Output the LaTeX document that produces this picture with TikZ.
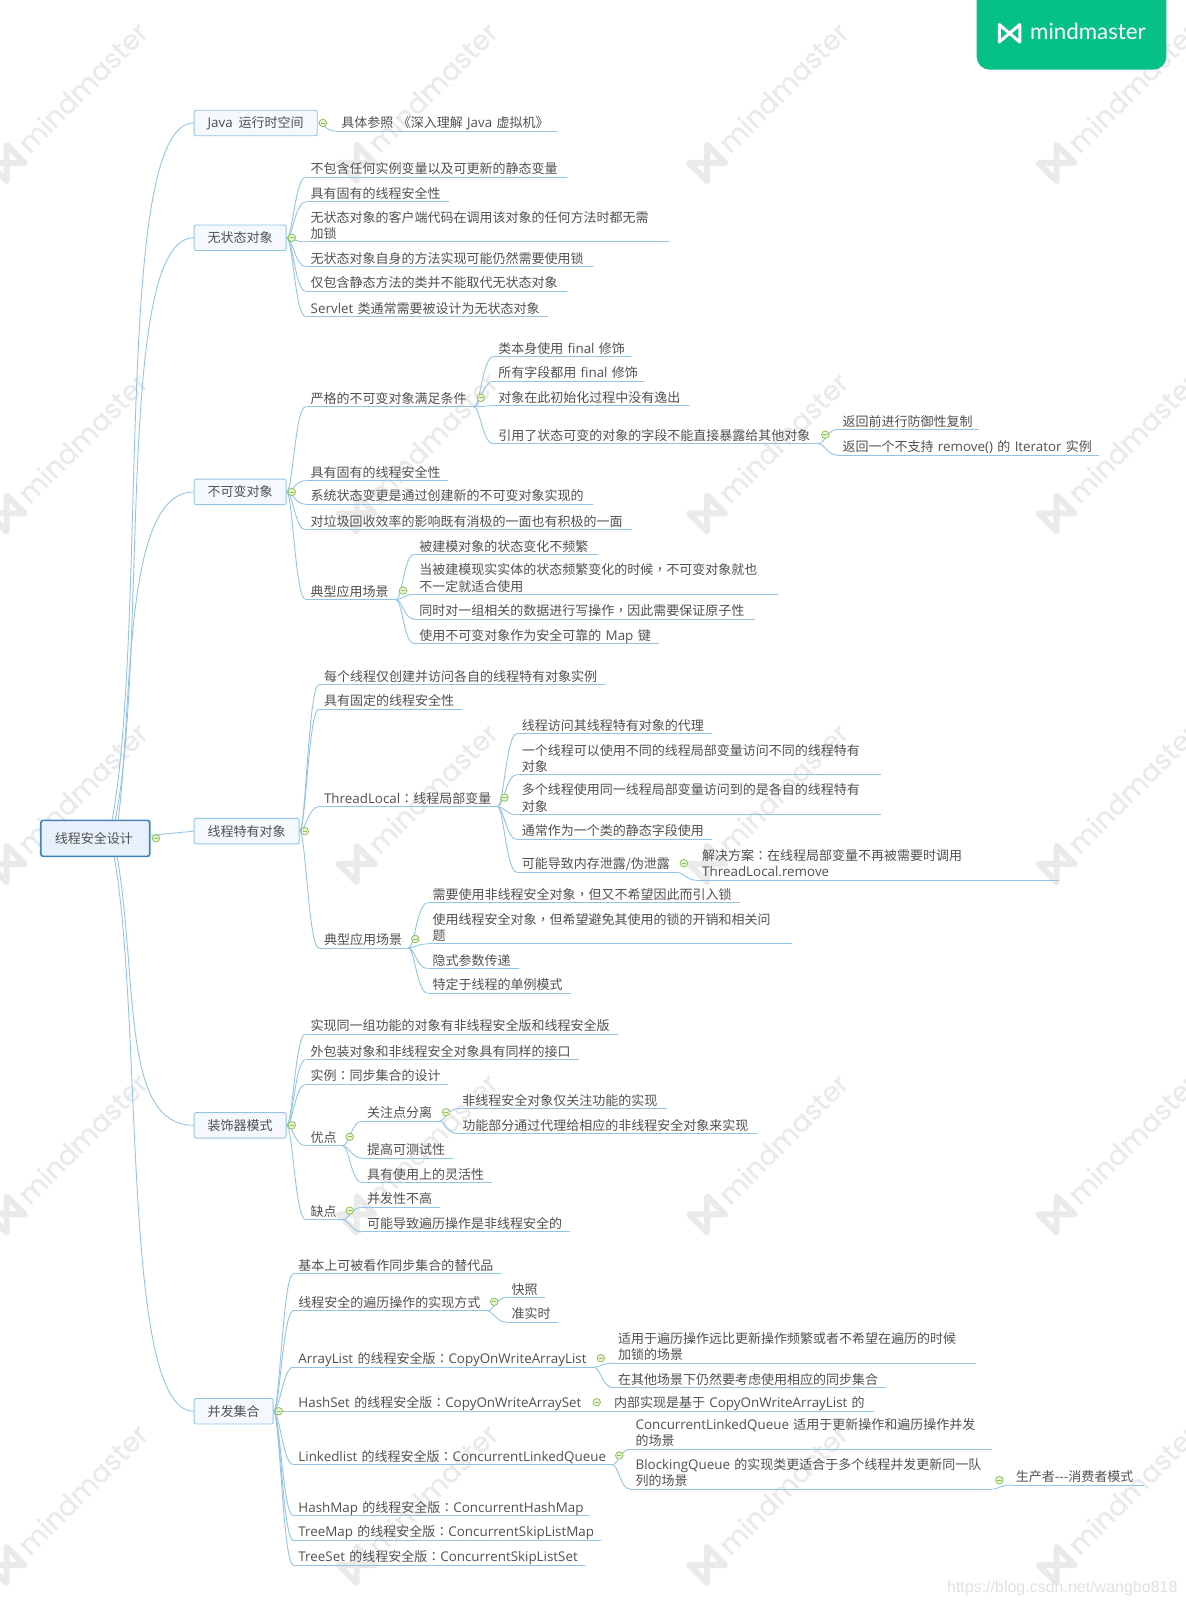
\documentclass[tikz,border=0pt]{standalone}
\usepackage{fontspec}
\setmainfont{Noto Sans CJK SC}
\newfontfamily\puncfont{Noto Sans CJK TC}
\newfontfamily\latfont[Scale=1.03]{Open Sans}
\newfontfamily\logofont{Lato}
\newfontfamily\wmfont[FakeBold=0.6]{Poppins}
\newfontfamily\urlfont{Liberation Sans}
\usepackage{tikz}
\usetikzlibrary{positioning}

\newcommand{\lat}[1]{{\latfont #1}}
\newcommand{\maohao}{{\puncfont ：}}
\newcommand{\douhao}{{\puncfont ，}}

\definecolor{linkblue}{HTML}{93C4E6}
\definecolor{boxfill}{HTML}{F5F9FE}
\definecolor{rootfill}{HTML}{E8F1FB}
\definecolor{rootline}{HTML}{4384B4}
\definecolor{knobgreen}{HTML}{8CC152}
\definecolor{knobfill}{HTML}{EAF5DC}
\definecolor{inkgray}{HTML}{505050}
\definecolor{markgray}{HTML}{EAEAEA}
\definecolor{badgegreen}{HTML}{05C087}

\tikzset{
    link/.style={draw=linkblue, line width=0.9pt},
    branch/.style={
        draw=linkblue, fill=boxfill, rounded corners=2pt, line width=0.9pt,
        minimum height=25.5pt, inner xsep=13.5pt, inner ysep=0pt, anchor=west,
        text=inkgray, font=\fontsize{13}{16.4}\selectfont
    },
    topic/.style={
        anchor=south west, inner sep=0pt, align=left, text=inkgray,
        font=\fontsize{13}{16.4}\selectfont,
        execute at begin node=\rule{0pt}{11pt}, execute at end node=\rule[-3.2pt]{0pt}{8pt}
    },
    knob/.style={
        circle, draw=knobgreen, fill=knobfill, line width=0.8pt,
        minimum size=7.5pt, inner sep=0pt,
        path picture={
            \draw[knobgreen, line width=0.8pt]
                ([xshift=-2.2pt]path picture bounding box.center)
                -- ([xshift=2.2pt]path picture bounding box.center);
        }
    },
    wmtext/.style={rotate=45, text=markgray, font=\wmfont\fontsize{27.5}{27.5}\selectfont},
    wmmark/.style={draw=markgray, line width=6pt, line join=round, line cap=round}
}

% parent anchor, name, text x, line y, line end x, text
\newcommand{\topic}[6]{
    \pgfmathsetmacro{\topicw}{(#5-#3)*1.025}
    \node[topic, text width=\topicw pt] (#2) at (#3,#4) {#6};
    \draw[link] ([xshift=-5pt]#2.south west) -- (#2.south east);
    \draw[link] (#1) .. controls +(6,0) and +(-10,0) .. ([xshift=-5pt]#2.south west);
}
% knob beside a box and beside an underlined topic
\newcommand{\boxknob}[1]{\node[knob] (#1k) at ([xshift=5.2pt]#1.east) {};}
\newcommand{\topicknob}[1]{\node[knob] (#1k) at ([xshift=7pt,yshift=9pt]#1.south east) {};}

\begin{document}
\begin{tikzpicture}[x=1.025pt, y=-1.025pt]
\useasboundingbox (0,0) rectangle (1157,1568);

% watermark
\foreach \wx in {80.5,422,764,1105} {
    \foreach \wy in {85,427,769,1111,1453} {
        \node[wmtext] (wm\wx-\wy) at (\wx,\wy) {mindmaster};
        \begin{scope}[shift={(\wx-74,\wy+74)}, rotate=45]
            \draw[wmmark] (-12.5,-12.5) -- (-12.5,12.5) -- (12.5,-12.5) -- (12.5,12.5) -- cycle;
        \end{scope}
    }
}

% badge
\fill[badgegreen, rounded corners=13pt] (953,-20) rectangle (1138,68);
\draw[white, line width=3pt, line join=round, line cap=round]
    (975,41) -- (975,24) -- (995,41) -- (995,24) -- cycle;
\node[text=white, font=\logofont\fontsize{22.3}{22.3}\selectfont, anchor=west, inner sep=0pt] (brand) at (1005,31) {mindmaster};

% root and main branches
\node[draw=rootline, fill=rootfill, rounded corners=2.5pt, line width=1.7pt, minimum width=109pt, minimum height=36pt,
    text=inkgray, font=\fontsize{13}{16.4}\selectfont] (root) at (93,818) {线程安全设计\kern3pt};
\node[branch] (runtime) at (189,120) {\lat{Java} \kern3pt运行时空间};
\node[branch] (stateless) at (189,232) {无状态对象};
\node[branch] (immutable) at (189,480) {不可变对象};
\node[branch] (tso) at (189,811) {线程特有对象};
\node[branch] (decorator) at (189,1098) {装饰器模式};
\node[branch] (concurrent) at (189,1377) {并发集合};

\draw[link] ([xshift=17pt]root.north) .. controls (145,600) and (110,120) .. (runtime.west);
\draw[link] ([xshift=20pt]root.north) .. controls (145,640) and (112,232) .. (stateless.west);
\draw[link] ([xshift=23pt]root.north) .. controls (130,680) and (120,480) .. (immutable.west);
\draw[link] ([yshift=3pt]root.east) -- (tso.west);
\draw[link] ([xshift=22pt]root.south) .. controls (135,960) and (118,1098) .. (decorator.west);
\draw[link] ([xshift=19pt]root.south) .. controls (140,1000) and (118,1377) .. (concurrent.west);

% Java
\topic{runtime.east}{rt1}{333}{128}{543}{具体参照 《深入理解 \lat{Java} 虚拟机》}

% stateless
\topic{stateless.east}{sl1}{303}{173}{553}{不包含任何实例变量以及可更新的静态变量}
\topic{stateless.east}{sl2}{303}{197}{438}{具有固有的线程安全性}
\topic{stateless.east}{sl3}{303}{236}{652}{无状态对象的客户端代码在调用该对象的任何方法时都无需\\加锁}
\topic{stateless.east}{sl4}{303}{260}{578}{无状态对象自身的方法实现可能仍然需要使用锁}
\topic{stateless.east}{sl5}{303}{284}{553}{仅包含静态方法的类并不能取代无状态对象}
\topic{stateless.east}{sl6}{303}{309}{534}{\lat{Servlet} 类通常需要被设计为无状态对象}

% immutable
\topic{immutable.east}{im1}{303}{397}{462}{严格的不可变对象满足条件}
\topic{im1.south east}{im11}{486}{348}{615}{类本身使用 \lat{final} 修饰}
\topic{im1.south east}{im12}{486}{372}{628}{所有字段都用 \lat{final} 修饰}
\topic{im1.south east}{im13}{486}{396}{672}{对象在此初始化过程中没有逸出}
\topic{im1.south east}{im14}{486}{433}{798}{引用了状态可变的对象的字段不能直接暴露给其他对象}
\topic{im14.south east}{im141}{822}{419}{955}{返回前进行防御性复制}
\topic{im14.south east}{im142}{822}{444}{1072}{返回一个不支持 \lat{remove()} 的 \lat{Iterator} 实例}
\topic{immutable.east}{im2}{303}{469}{437}{具有固有的线程安全性}
\topic{immutable.east}{im3}{303}{492}{578}{系统状态变更是通过创建新的不可变对象实现的}
\topic{immutable.east}{im4}{303}{517}{616}{对垃圾回收效率的影响既有消极的一面也有积极的一面}
\topic{immutable.east}{im5}{303}{585}{386}{典型应用场景}
\topic{im5.south east}{im51}{409}{541}{583}{被建模对象的状态变化不频繁}
\topic{im5.south east}{im52}{409}{580}{759}{当被建模现实实体的状态频繁变化的时候\douhao 不可变对象就也\\不一定就适合使用}
\topic{im5.south east}{im53}{409}{604}{736}{同时对一组相关的数据进行写操作\douhao 因此需要保证原子性}
\topic{im5.south east}{im54}{409}{628}{643}{使用不可变对象作为安全可靠的 \lat{Map} 键}

% thread specific
\topic{tso.east}{ts1}{316}{668}{590}{每个线程仅创建并访问各自的线程特有对象实例}
\topic{tso.east}{ts2}{316}{692}{450}{具有固定的线程安全性}
\topic{tso.east}{ts3}{316}{787}{485}{\lat{ThreadLocal}\maohao 线程局部变量}
\topic{ts3.south east}{ts31}{509}{716}{694}{线程访问其线程特有对象的代理}
\topic{ts3.south east}{ts32}{509}{756}{859}{一个线程可以使用不同的线程局部变量访问不同的线程特有\\对象}
\topic{ts3.south east}{ts33}{509}{795}{859}{多个线程使用同一线程局部变量访问到的是各自的线程特有\\对象}
\topic{ts3.south east}{ts34}{509}{819}{694}{通常作为一个类的静态字段使用}
\topic{ts3.south east}{ts35}{509}{851}{660}{可能导致内存泄露/伪泄露}
\topic{ts35.south east}{ts351}{685}{859}{1033}{解决方案\maohao 在线程局部变量不再被需要时调用\\\lat{ThreadLocal.remove}}
\topic{tso.east}{ts4}{316}{925}{398}{典型应用场景}
\topic{ts4.south east}{ts41}{422}{881}{722}{需要使用非线程安全对象\douhao 但又不希望因此而引入锁}
\topic{ts4.south east}{ts42}{422}{921}{772}{使用线程安全对象\douhao 但希望避免其使用的锁的开销和相关问\\题}
\topic{ts4.south east}{ts43}{422}{945}{506}{隐式参数传递}
\topic{ts4.south east}{ts44}{422}{969}{557}{特定于线程的单例模式}

% decorator
\topic{decorator.east}{dc1}{303}{1009}{603}{实现同一组功能的对象有非线程安全版和线程安全版}
\topic{decorator.east}{dc2}{303}{1034}{565}{外包装对象和非线程安全对象具有同样的接口}
\topic{decorator.east}{dc3}{303}{1058}{437}{实例\maohao 同步集合的设计}
\topic{decorator.east}{dc4}{303}{1118}{334}{优点}
\topic{dc4.south east}{dc41}{358}{1094}{428}{关注点分离}
\topic{dc41.south east}{dc411}{451}{1082}{650}{非线程安全对象仅关注功能的实现}
\topic{dc41.south east}{dc412}{451}{1106}{738}{功能部分通过代理给相应的非线程安全对象来实现}
\topic{dc4.south east}{dc42}{358}{1130}{442}{提高可测试性}
\topic{dc4.south east}{dc43}{358}{1154}{480}{具有使用上的灵活性}
\topic{decorator.east}{dc5}{303}{1190}{334}{缺点}
\topic{dc5.south east}{dc51}{358}{1178}{429}{并发性不高}
\topic{dc5.south east}{dc52}{358}{1202}{556}{可能导致遍历操作是非线程安全的}

% concurrent
\topic{concurrent.east}{cc1}{291}{1243}{488}{基本上可被看作同步集合的替代品}
\topic{concurrent.east}{cc2}{291}{1279}{475}{线程安全的遍历操作的实现方式}
\topic{cc2.south east}{cc21}{499}{1266}{531}{快照}
\topic{cc2.south east}{cc22}{499}{1290}{544}{准实时}
\topic{concurrent.east}{cc3}{291}{1334}{579}{\lat{ArrayList} 的线程安全版\maohao \lat{CopyOnWriteArrayList}}
\topic{cc3.south east}{cc31}{603}{1330}{952}{适用于遍历操作远比更新操作频繁或者不希望在遍历的时候\\加锁的场景}
\topic{cc3.south east}{cc32}{603}{1354}{864}{在其他场景下仍然要考虑使用相应的同步集合}
\topic{concurrent.east}{cc4}{291}{1377}{575}{\lat{HashSet} 的线程安全版\maohao \lat{CopyOnWriteArraySet}}
\topic{cc4.south east}{cc41}{599}{1377}{852}{内部实现是基于 \lat{CopyOnWriteArrayList} 的}
\topic{concurrent.east}{cc5}{291}{1429}{597}{\lat{Linkedlist} 的线程安全版\maohao \lat{ConcurrentLinkedQueue}}
\topic{cc5.south east}{cc51}{620}{1414}{968}{\lat{ConcurrentLinkedQueue} 适用于更新操作和遍历操作并发\\的场景}
\topic{cc5.south east}{cc52}{620}{1453}{968}{\lat{BlockingQueue} 的实现类更适合于多个线程并发更新同一队\\列的场景}
\topic{cc52.south east}{cc521}{991}{1449}{1116}{生产者-{}-{}-消费者模式}
\topic{concurrent.east}{cc6}{291}{1479}{574}{\lat{HashMap} 的线程安全版\maohao \lat{ConcurrentHashMap}}
\topic{concurrent.east}{cc7}{291}{1503}{586}{\lat{TreeMap} 的线程安全版\maohao \lat{ConcurrentSkipListMap}}
\topic{concurrent.east}{cc8}{291}{1527}{570}{\lat{TreeSet} 的线程安全版\maohao \lat{ConcurrentSkipListSet}}

% knobs
\node[knob] (rootk) at ([xshift=5.2pt]root.east) {};
\boxknob{runtime}
\boxknob{stateless}
\boxknob{immutable}
\boxknob{tso}
\boxknob{decorator}
\boxknob{concurrent}
\topicknob{im1}
\topicknob{im14}
\topicknob{im5}
\topicknob{ts3}
\topicknob{ts35}
\topicknob{ts4}
\topicknob{dc4}
\topicknob{dc41}
\topicknob{dc5}
\topicknob{cc2}
\topicknob{cc3}
\topicknob{cc4}
\topicknob{cc5}
\topicknob{cc52}

\node[text=black!12, font=\urlfont\fontsize{16}{16}\selectfont, inner sep=0pt] (url) at (1036.5,1550) {https://blog.csdn.net/wangbo818};

\end{tikzpicture}
\end{document}
